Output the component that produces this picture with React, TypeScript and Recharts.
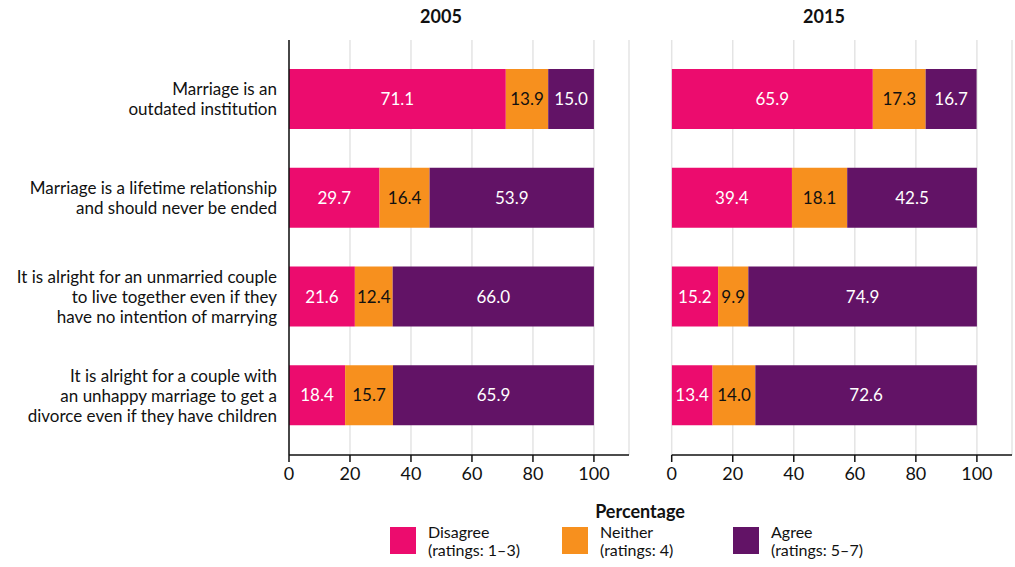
import { BarChart, Bar, XAxis, YAxis, CartesianGrid, LabelList } from "recharts";

const statements = [
  ["Marriage is an", "outdated institution"],
  ["Marriage is a lifetime relationship", "and should never be ended"],
  ["It is alright for an unmarried couple", "to live together even if they", "have no intention of marrying"],
  ["It is alright for a couple with", "an unhappy marriage to get a", "divorce even if they have children"],
];

const disagree2005 = [71.1, 29.7, 21.6, 18.4];
const neither2005 = [13.9, 16.4, 12.4, 15.7];
const agree2005 = [15.0, 53.9, 66.0, 65.9];

const disagree2015 = [65.9, 39.4, 15.2, 13.4];
const neither2015 = [17.3, 18.1, 9.9, 14.0];
const agree2015 = [16.7, 42.5, 74.9, 72.6];

const xTicks = [0, 20, 40, 60, 80, 100];

const PINK = "#ec0c6e";
const ORANGE = "#f7901e";
const PURPLE = "#621366";
const FONT = "Lato, sans-serif";

const legendItems = [
  { color: PINK, lines: ["Disagree", "(ratings: 1–3)"], left: 390 },
  { color: ORANGE, lines: ["Neither", "(ratings: 4)"], left: 562 },
  { color: PURPLE, lines: ["Agree", "(ratings: 5–7)"], left: 733 },
];

function buildRows(d: number[], n: number[], a: number[]) {
  return statements.map((_, i) => ({ id: String(i), disagree: d[i], neither: n[i], agree: a[i] }));
}

const data2005 = buildRows(disagree2005, neither2005, agree2005);
const data2015 = buildRows(disagree2015, neither2015, agree2015);

const fmt = (v: any) => Number(v).toFixed(1);

const StatementTick = (props: any) => {
  const { x, y, payload } = props;
  const lines = statements[Number(payload.value)];
  const lh = 20;
  const start = y - ((lines.length - 1) * lh) / 2;
  return (
    <text x={x - 4} y={start} textAnchor="end" fontSize={17} fill="#111" fontFamily={FONT}>
      {lines.map((l, i) => (
        <tspan key={i} x={x - 4} y={start + i * lh} dy="0.35em">
          {l}
        </tspan>
      ))}
    </text>
  );
};

const Panel = ({ data, showLabels }: { data: any[]; showLabels: boolean }) => (
  <BarChart
    width={showLabels ? 640 : 375}
    height={567}
    data={data}
    layout="vertical"
    margin={{ top: 40, right: showLabels ? 11 : 3, bottom: 82, left: showLabels ? 0 : 31.7 }}
    style={{ fontFamily: FONT }}
  >
    <CartesianGrid horizontal={false} stroke="#e4e4e4" strokeWidth={1.5} />
    <XAxis
      type="number"
      domain={[0, 111.5]}
      ticks={xTicks}
      allowDataOverflow
      height={30}
      axisLine={{ stroke: "#111", strokeWidth: 1.5 }}
      tickLine={{ stroke: "#111", strokeWidth: 1.5 }}
      tickSize={7}
      tickMargin={5}
      tick={{ fontSize: 18, fill: "#111", fontFamily: FONT }}
    />
    <YAxis
      type="category"
      dataKey="id"
      hide={!showLabels}
      width={289}
      padding={{ top: 10, bottom: 10 }}
      axisLine={{ stroke: "#111", strokeWidth: 1.5 }}
      tickLine={false}
      tick={<StatementTick />}
    />
    <Bar dataKey="disagree" stackId="s" fill={PINK} barSize={60} isAnimationActive={false}>
      <LabelList dataKey="disagree" position="center" fill="#fff" fontSize={17} formatter={fmt} />
    </Bar>
    <Bar dataKey="neither" stackId="s" fill={ORANGE} barSize={60} isAnimationActive={false}>
      <LabelList dataKey="neither" position="center" fill="#111" fontSize={17} formatter={fmt} />
    </Bar>
    <Bar dataKey="agree" stackId="s" fill={PURPLE} barSize={60} isAnimationActive={false}>
      <LabelList dataKey="agree" position="center" fill="#fff" fontSize={17} formatter={fmt} />
    </Bar>
  </BarChart>
);

export default function App() {
  return (
    <div
      style={{
        position: "absolute",
        left: 0,
        top: 0,
        width: 1015,
        height: 567,
        background: "#fff",
        fontFamily: FONT,
        color: "#111",
      }}
    >
      <div style={{ position: "absolute", left: 0, top: 0 }}>
        <Panel data={data2005} showLabels />
      </div>
      <div style={{ position: "absolute", left: 640, top: 0 }}>
        <Panel data={data2015} showLabels={false} />
      </div>
      <div style={{ position: "absolute", left: 391, width: 100, top: 5, textAlign: "center", fontWeight: 700, fontSize: 18 }}>
        2005
      </div>
      <div style={{ position: "absolute", left: 774, width: 100, top: 5, textAlign: "center", fontWeight: 700, fontSize: 18 }}>
        2015
      </div>
      <div style={{ position: "absolute", left: 540, width: 200, top: 500, textAlign: "center", fontWeight: 700, fontSize: 18 }}>
        Percentage
      </div>
      {legendItems.map((it) => (
        <div key={it.lines[0]} style={{ position: "absolute", left: it.left, top: 527, display: "flex" }}>
          <div style={{ width: 26, height: 27, background: it.color }} />
          <div style={{ marginLeft: 12, marginTop: -4, fontSize: 16, lineHeight: "18px" }}>
            {it.lines.map((l) => (
              <div key={l}>{l}</div>
            ))}
          </div>
        </div>
      ))}
    </div>
  );
}
